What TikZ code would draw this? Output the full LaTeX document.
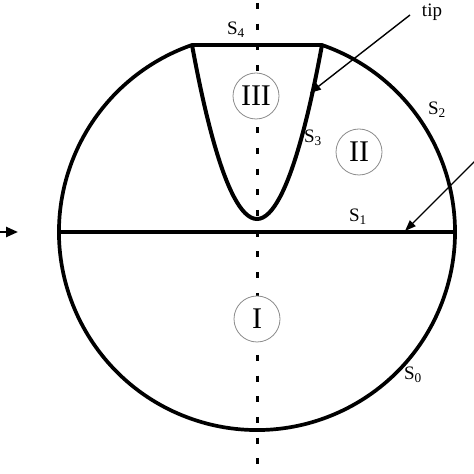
\documentclass[tikz,border=0pt]{standalone}
\usepackage{fontspec}
\setmainfont{Liberation Serif}
\usetikzlibrary{arrows.meta}
\tikzset{
  thick line/.style={line width=3.7pt, line join=miter},
  region/.style={circle, draw=black!45, fill=white, line width=0.8pt, minimum size=46pt, inner sep=0pt, font=\fontsize{30}{30}\selectfont},
  lbl/.style={font=\fontsize{19}{19}\selectfont, inner sep=0pt},
  pointer/.style={line width=1.4pt, -{Triangle[length=11pt,width=8pt]}},
  axis/.style={line width=3pt, dash pattern=on 6pt off 14.7pt}
}
\begin{document}
\begin{tikzpicture}[x=1pt,y=1pt]
\useasboundingbox (0,0) rectangle (474,474);
% coordinates
\coordinate (C) at (257,242);
\coordinate (TR) at (322,429);
\coordinate (TL) at (192,429);
\coordinate (V) at (257,255);
\coordinate (L) at (59,242);
\coordinate (R) at (455,242);
% symmetry axis
\coordinate (axtop) at (257,471);
\coordinate (axbot) at (257,0);
\draw[axis] (axtop) -- (axbot);
% outer boundary (circle with flat top)
\draw[thick line] (TR) arc[start angle=70.83, end angle=-250.83, radius=198pt] -- cycle;
% S1 line
\draw[thick line] (L) -- (R);
% parabola S3
\draw[line width=4pt] (TL) parabola bend (V) (TR);
% region labels
\node[region] (r3) at (256,378) {III};
\node[region] (r2) at (359,322) {II};
\node[region] (r1) at (257,155) {I};
% surface labels
\node[lbl] (s4) at (236,444) {S\textsubscript{4}};
\node[lbl] (s3) at (313,336) {S\textsubscript{3}};
\node[lbl] (s2) at (437,364) {S\textsubscript{2}};
\node[lbl] (s1) at (358,257) {S\textsubscript{1}};
\node[lbl] (s0) at (413,99) {S\textsubscript{0}};
\node[lbl] (tip) at (432,462) {tip};
% arrows
\coordinate (a1s) at (410,459);
\coordinate (a1e) at (310,381);
\draw[pointer] (a1s) -- (a1e);
\coordinate (a2s) at (476,314);
\coordinate (a2e) at (405,243);
\draw[pointer] (a2s) -- (a2e);
\coordinate (a3s) at (-2,242);
\coordinate (a3e) at (18,242);
\draw[line width=2.4pt, -{Triangle[length=12pt,width=10pt]}] (a3s) -- (a3e);
\end{tikzpicture}
\end{document}
